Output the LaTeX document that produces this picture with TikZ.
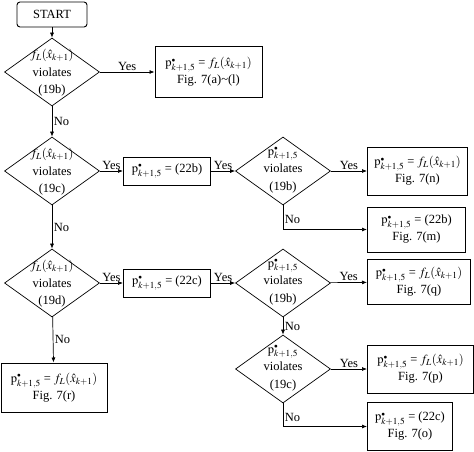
\documentclass[tikz,border=0pt]{standalone}
\usepackage{mathptmx}
\usepackage{fontspec}
\setmainfont{Liberation Serif}
\usetikzlibrary{arrows.meta,positioning,shapes.geometric}
\newcommand{\pks}{\ensuremath{\mathrm{p}^{\scriptscriptstyle\bullet}_{k+1,5}}}
\newcommand{\fLx}{\ensuremath{f_L(\hat{x}_{k+1})}}
\tikzset{
  startbox/.style={rectangle, rounded corners=3pt, draw, line width=0.9pt,
                   minimum width=70pt, minimum height=25pt},
  dia/.style     ={diamond, draw, line width=0.7pt, minimum width=95pt,
                   minimum height=68pt, inner sep=0pt},
  dtext/.style   ={align=center, inner sep=0pt, font=\fontsize{12.5}{17.5}\selectfont},
  res/.style     ={rectangle, draw, line width=1pt, align=center,
                   minimum height=48pt, font=\fontsize{12.5}{17}\selectfont},
  flow/.style    ={-{Latex[length=5pt,width=4pt]}, line width=0.7pt},
  lbl/.style     ={inner sep=1.5pt},
}
\begin{document}
\begin{tikzpicture}[x=1pt, y=-1pt, font=\fontsize{12.5}{15}\selectfont]
    \useasboundingbox (0,0) rectangle (474,452);

    % left column
    \node[startbox] (start) at (52,14.5) {START};
    \node[dia] (d1) at (52,72) {};
    \node[dtext] (d1t) at (52,73) {\fLx\\violates\\(19b)};
    \node[dia] (d2) at (52,171) {};
    \node[dtext] (d2t) at (52,172) {\fLx\\violates\\(19c)};
    \node[dia] (d4) at (52,283) {};
    \node[dtext] (d4t) at (52,284) {\fLx\\violates\\(19d)};
    \node[res, minimum width=106pt, minimum height=49pt] (br) at (54,387.5)
        {\pks{} = \fLx\\Fig. 7(r)};

    % middle
    \node[res, minimum width=107pt, minimum height=50pt] (b1) at (208.5,72)
        {\pks{} = \fLx\\Fig. 7(a)\textasciitilde(l)};
    \node[res, minimum width=87pt, minimum height=28pt] (b22b) at (167,171) {\pks{} = (22b)};
    \node[res, minimum width=87pt, minimum height=28pt] (b22c) at (167,283) {\pks{} = (22c)};

    % right column
    \node[dia] (d3) at (283,171) {};
    \node[dtext] (d3t) at (283,170) {\pks\\violates\\(19b)};
    \node[dia] (d5) at (283,283) {};
    \node[dtext] (d5t) at (283,282) {\pks\\violates\\(19b)};
    \node[dia] (d6) at (283,369) {};
    \node[dtext] (d6t) at (283,368) {\pks\\violates\\(19c)};

    \node[res, minimum width=100pt, anchor=west] (bn) at (367,171) {\pks{} = \fLx\\Fig. 7(n)};
    \node[res, minimum width=98pt, minimum height=45pt, anchor=west] (bm) at (367,229.5)
        {\pks{} = (22b)\\Fig. 7(m)};
    \node[res, minimum width=103pt, minimum height=45pt, anchor=west] (bq) at (367,282)
        {\pks{} = \fLx\\Fig. 7(q)};
    \node[res, minimum width=106pt, anchor=west] (bp) at (367,369) {\pks{} = \fLx\\Fig. 7(p)};
    \node[res, minimum width=85pt, anchor=west] (bo) at (367,426.5) {\pks{} = (22c)\\Fig. 7(o)};

    % connectors
    \draw[flow] (start) -- (d1);
    \draw[flow] (d1) -- node[lbl, above]{Yes} (b1);
    \draw[flow] (d1) -- node[lbl, right]{No} (d2);
    \draw[flow] (d2) -- node[lbl, above]{Yes} (b22b);
    \draw[flow] (d2) -- node[lbl, right]{No} (d4);
    \draw[flow] (d4) -- node[lbl, above]{Yes} (b22c);
    \draw[flow] (d4) -- node[lbl, right]{No} (br);

    \draw[flow] (b22b) -- node[lbl, above]{Yes} (d3);
    \draw[flow] (d3) -- node[lbl, above]{Yes} (bn);
    \draw[flow] (d3.south) |- node[lbl, right, pos=0.3]{No} (bm);

    \draw[flow] (b22c) -- node[lbl, above]{Yes} (d5);
    \draw[flow] (d5) -- node[lbl, above]{Yes} (bq);
    \draw[flow] (d5) -- node[lbl, right]{No} (d6);
    \draw[flow] (d6) -- node[lbl, above]{Yes} (bp);
    \draw[flow] (d6.south) |- node[lbl, right, pos=0.3]{No} (bo);
\end{tikzpicture}
\end{document}
